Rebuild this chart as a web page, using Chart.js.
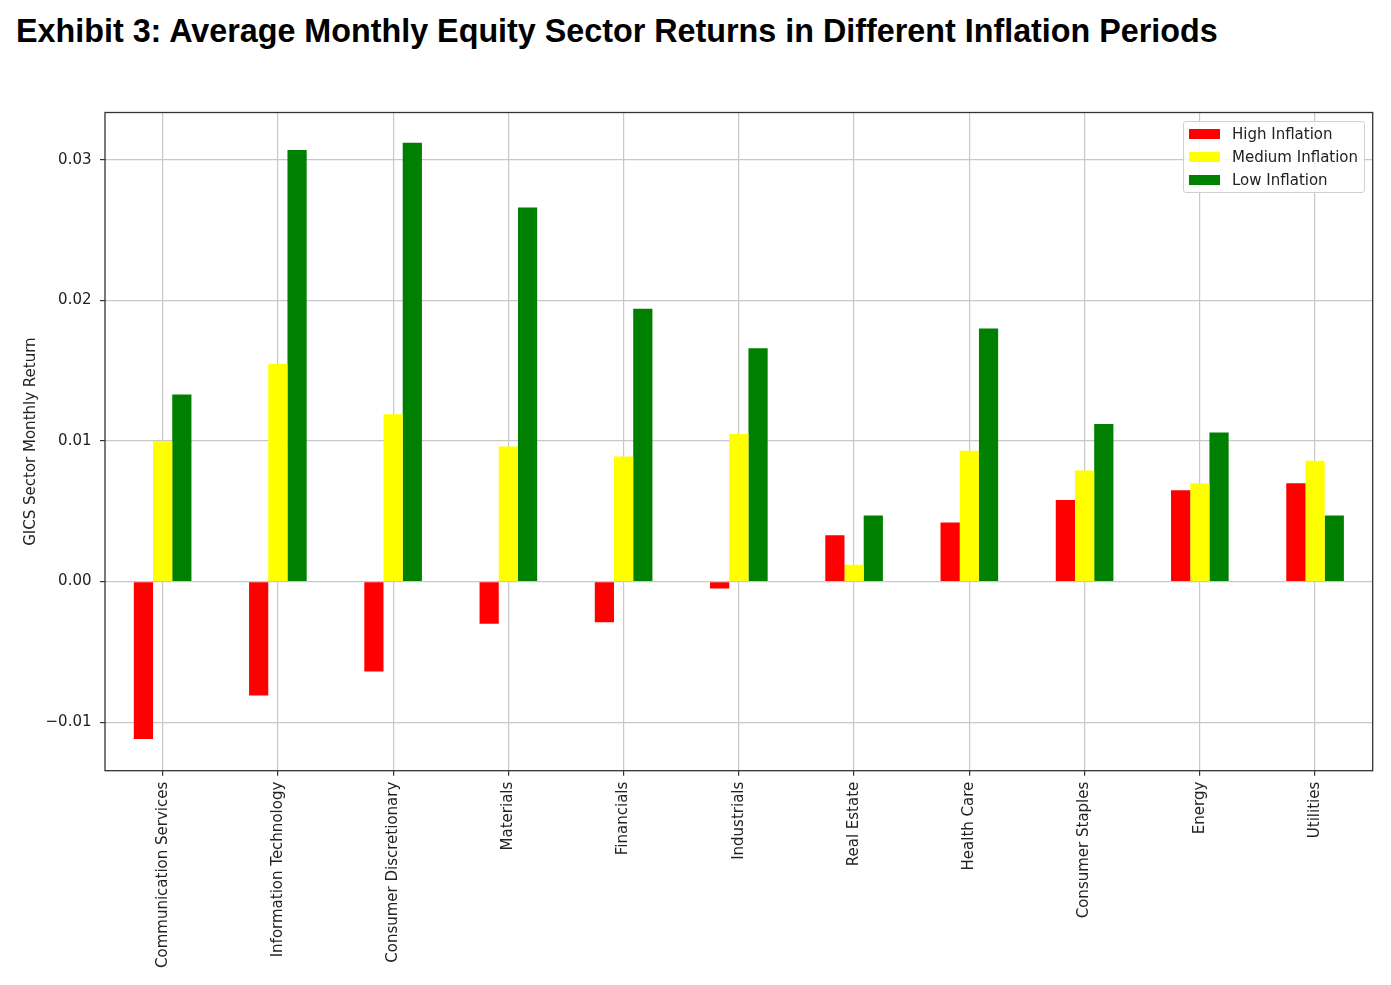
<!DOCTYPE html>
<html>
<head>
<meta charset="utf-8">
<title>Exhibit 3</title>
<script src="https://cdn.jsdelivr.net/npm/chart.js@4.4.1/dist/chart.umd.min.js"></script>
<style>
    html, body { margin: 0; padding: 0; background: #fff; }
    body { width: 1391px; height: 985px; position: relative; overflow: hidden; }
    h1 {
        position: absolute; left: 16px; top: 13px; margin: 0;
        font: bold 32.3px "Liberation Sans", Arial, sans-serif; color: #000;
        white-space: nowrap;
    }
    #wrap { position: absolute; left: 0; top: 0; width: 1391px; height: 985px; }
    #legend {
        position: absolute; left: 1183px; top: 121px; width: 180px; height: 70px;
        border: 1px solid #d0d0d0; border-radius: 3px; background: rgba(255,255,255,0.85);
        font: 15px "DejaVu Sans", sans-serif; color: #222;
    }
    .row { position: absolute; left: 0; height: 18px; line-height: 18px; }
    .patch { position: absolute; left: 5px; top: 4px; width: 31px; height: 10px; }
    .label { position: absolute; left: 48px; top: 0; white-space: nowrap; }
</style>
</head>
<body>
<h1>Exhibit 3: Average Monthly Equity Sector Returns in Different Inflation Periods</h1>
<div id="wrap"><canvas id="sectorChart"></canvas></div>
<div id="legend"></div>

<script>
// Sectors in the order shown on the x axis
const sectors = [
    'Communication Services', 'Information Technology', 'Consumer Discretionary',
    'Materials', 'Financials', 'Industrials', 'Real Estate', 'Health Care',
    'Consumer Staples', 'Energy', 'Utilities'
];

// Average monthly returns
const highInflation = [-0.0112, -0.0081, -0.0064, -0.0030, -0.0029, -0.0005, 0.0033, 0.0042, 0.0058, 0.0065, 0.0070];
const mediumInflation = [0.0100, 0.0155, 0.0119, 0.0096, 0.0089, 0.0105, 0.0012, 0.0093, 0.0079, 0.0070, 0.0086];
const lowInflation = [0.0133, 0.0307, 0.0312, 0.0266, 0.0194, 0.0166, 0.0047, 0.0180, 0.0112, 0.0106, 0.0047];

const yTicks = [-0.01, 0.00, 0.01, 0.02, 0.03];
const yMin = -0.01345;
const yMax = 0.03336;

document.addEventListener('DOMContentLoaded', function() {
    const chart = initChart();
    buildLegend(chart);
});

// box around the plot area, like matplotlib spines
const frame = {
    id: 'frame',
    afterDraw(chart) {
        const {ctx, chartArea: a} = chart;
        ctx.save();
        ctx.strokeStyle = '#333';
        ctx.lineWidth = 1.3;
        ctx.strokeRect(a.left, a.top, a.right - a.left, a.bottom - a.top);
        ctx.restore();
    }
};

function initChart() {
    const ctx = document.getElementById('sectorChart').getContext('2d');
    const tickFont = { family: '"DejaVu Sans", sans-serif', size: 15 };

    return new Chart(ctx, {
        type: 'bar',
        data: {
            labels: sectors,
            datasets: [
                { label: 'High Inflation', data: highInflation, backgroundColor: '#ff0000' },
                { label: 'Medium Inflation', data: mediumInflation, backgroundColor: '#ffff00' },
                { label: 'Low Inflation', data: lowInflation, backgroundColor: '#008000' }
            ]
        },
        options: {
            responsive: true,
            maintainAspectRatio: false,
            animation: false,
            layout: { padding: { top: 112.5, right: 18.3, left: 0, bottom: 0 } },
            datasets: { bar: { categoryPercentage: 0.5, barPercentage: 1.0 } },
            plugins: {
                legend: { display: false },
                tooltip: { enabled: false }
            },
            scales: {
                x: {
                    z: 1,
                    offset: true,
                    border: { display: false },
                    grid: { offset: false, color: '#c8c8c8', lineWidth: 1.2, tickColor: '#333', tickLength: 5 },
                    ticks: { color: '#222', font: tickFont, minRotation: 90, maxRotation: 90, padding: 6, autoSkip: false },
                    afterFit(scale) { scale.height = 214.3; }
                },
                y: {
                    z: 1,
                    min: yMin,
                    max: yMax,
                    border: { display: false },
                    grid: { color: '#c8c8c8', lineWidth: 1.2, tickColor: '#333', tickLength: 5 },
                    ticks: {
                        color: '#222',
                        font: tickFont,
                        padding: 8.5,
                        callback: function(v) {
                            return v < 0 ? '\u2212' + Math.abs(v).toFixed(2) : v.toFixed(2);
                        }
                    },
                    afterBuildTicks(scale) {
                        scale.ticks = yTicks.map(v => ({ value: v }));
                    },
                    afterFit(scale) { scale.width = 105; },
                    title: {
                        display: true,
                        text: 'GICS Sector Monthly Return',
                        color: '#222',
                        font: tickFont,
                        padding: { top: 22, bottom: 0 }
                    }
                }
            }
        },
        plugins: [frame]
    });
}

function buildLegend(chart) {
    const box = document.getElementById('legend');
    const rowTops = [3, 26, 49];
    chart.data.datasets.forEach((ds, i) => {
        const row = document.createElement('div');
        row.className = 'row';
        row.style.top = rowTops[i] + 'px';
        row.innerHTML = '<span class="patch" style="background:' + ds.backgroundColor + '"></span>' +
            '<span class="label">' + ds.label + '</span>';
        box.appendChild(row);
    });
}
</script>
</body>
</html>
